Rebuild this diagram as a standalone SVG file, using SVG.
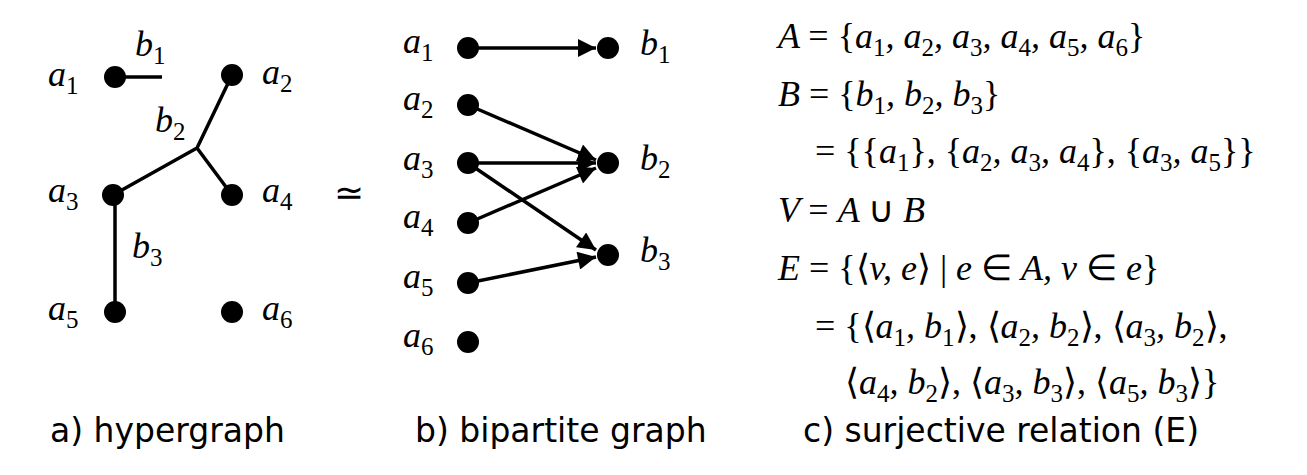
<svg xmlns="http://www.w3.org/2000/svg" width="1307" height="475" viewBox="0 0 1307 475">
<style>
.m{font-family:"Liberation Serif",serif;font-style:italic;font-size:36px;fill:#000}
.r{font-style:normal}
.s{font-size:25px;font-style:normal}
.cap{font-family:"DejaVu Sans","Liberation Sans",sans-serif;font-size:33px;fill:#000}
.e{stroke:#000;stroke-width:3.5;fill:none}
.n{fill:#000}
</style>
<defs><marker id="ah" viewBox="0 0 10 10" refX="10" refY="5" markerWidth="22" markerHeight="18" markerUnits="userSpaceOnUse" orient="auto"><path d="M0,0L10,5L0,10z"/></marker></defs>
<g id="connectors">
<path class="e" d="M115,77H162"/>
<path class="e" d="M197,148L232,75M197,148L113,195M197,148L232,195"/>
<path class="e" d="M115,195V312"/>
<path class="e" marker-end="url(#ah)" d="M468,48L596,48"/>
<path class="e" marker-end="url(#ah)" d="M468,105L596,160"/>
<path class="e" marker-end="url(#ah)" d="M468,163L596,163"/>
<path class="e" marker-end="url(#ah)" d="M468,163L596,250"/>
<path class="e" marker-end="url(#ah)" d="M468,223L596,168"/>
<path class="e" marker-end="url(#ah)" d="M468,283L596,257"/>
</g>
<g id="hyper">
<circle class="n" cx="115" cy="77" r="11"/><circle class="n" cx="232" cy="75" r="11"/>
<circle class="n" cx="113" cy="195" r="11"/><circle class="n" cx="232" cy="195" r="11"/>
<circle class="n" cx="115" cy="312" r="11"/><circle class="n" cx="232" cy="312" r="11"/>
<text class="m" x="48" y="86">a<tspan class="s" dy="8">1</tspan></text>
<text class="m" x="135" y="56">b<tspan class="s" dy="8">1</tspan></text>
<text class="m" x="155" y="132">b<tspan class="s" dy="8">2</tspan></text>
<text class="m" x="48" y="202">a<tspan class="s" dy="8">3</tspan></text>
<text class="m" x="132" y="258">b<tspan class="s" dy="8">3</tspan></text>
<text class="m" x="48" y="320">a<tspan class="s" dy="8">5</tspan></text>
<text class="m" x="262" y="84">a<tspan class="s" dy="8">2</tspan></text>
<text class="m" x="262" y="202">a<tspan class="s" dy="8">4</tspan></text>
<text class="m" x="262" y="320">a<tspan class="s" dy="8">6</tspan></text>
</g>
<text class="m r" x="334" y="205">≃</text>
<g id="bip">
<circle class="n" cx="468" cy="48" r="11"/><circle class="n" cx="468" cy="105" r="11"/>
<circle class="n" cx="468" cy="163" r="11"/><circle class="n" cx="468" cy="223" r="11"/>
<circle class="n" cx="468" cy="283" r="11"/><circle class="n" cx="468" cy="342" r="11"/>
<circle class="n" cx="608" cy="48" r="11"/><circle class="n" cx="608" cy="163" r="11"/><circle class="n" cx="608" cy="255" r="11"/>
<text class="m" x="403" y="53">a<tspan class="s" dy="8">1</tspan></text>
<text class="m" x="403" y="110">a<tspan class="s" dy="8">2</tspan></text>
<text class="m" x="403" y="170">a<tspan class="s" dy="8">3</tspan></text>
<text class="m" x="403" y="228">a<tspan class="s" dy="8">4</tspan></text>
<text class="m" x="403" y="288">a<tspan class="s" dy="8">5</tspan></text>
<text class="m" x="403" y="347">a<tspan class="s" dy="8">6</tspan></text>
<text class="m" x="640" y="55">b<tspan class="s" dy="8">1</tspan></text>
<text class="m" x="640" y="170">b<tspan class="s" dy="8">2</tspan></text>
<text class="m" x="640" y="262">b<tspan class="s" dy="8">3</tspan></text>
</g>
<g id="rel">
<text class="m" x="778" y="48">A <tspan class="r">= {</tspan>a<tspan class="s" dy="8">1</tspan><tspan dy="-8">, a</tspan><tspan class="s" dy="8">2</tspan><tspan dy="-8">, a</tspan><tspan class="s" dy="8">3</tspan><tspan dy="-8">, a</tspan><tspan class="s" dy="8">4</tspan><tspan dy="-8">, a</tspan><tspan class="s" dy="8">5</tspan><tspan dy="-8">, a</tspan><tspan class="s" dy="8">6</tspan><tspan class="r" dy="-8">}</tspan></text>
<text class="m" x="778" y="106">B <tspan class="r">= {</tspan>b<tspan class="s" dy="8">1</tspan><tspan dy="-8">, b</tspan><tspan class="s" dy="8">2</tspan><tspan dy="-8">, b</tspan><tspan class="s" dy="8">3</tspan><tspan class="r" dy="-8">}</tspan></text>
<text class="m" x="815" y="163"><tspan class="r">= {{</tspan>a<tspan class="s" dy="8">1</tspan><tspan class="r" dy="-8">}, {</tspan>a<tspan class="s" dy="8">2</tspan><tspan dy="-8">, a</tspan><tspan class="s" dy="8">3</tspan><tspan dy="-8">, a</tspan><tspan class="s" dy="8">4</tspan><tspan class="r" dy="-8">}, {</tspan>a<tspan class="s" dy="8">3</tspan><tspan dy="-8">, a</tspan><tspan class="s" dy="8">5</tspan><tspan class="r" dy="-8">}}</tspan></text>
<text class="m" x="778" y="222">V <tspan class="r">= </tspan>A <tspan class="r">∪ </tspan>B</text>
<text class="m" x="778" y="280">E <tspan class="r">= {⟨</tspan>v, e<tspan class="r">⟩ | </tspan>e <tspan class="r">∈ </tspan>A, v <tspan class="r">∈ </tspan>e<tspan class="r">}</tspan></text>
<text class="m" x="815" y="338"><tspan class="r">= {⟨</tspan>a<tspan class="s" dy="8">1</tspan><tspan dy="-8">, b</tspan><tspan class="s" dy="8">1</tspan><tspan class="r" dy="-8">⟩, ⟨</tspan>a<tspan class="s" dy="8">2</tspan><tspan dy="-8">, b</tspan><tspan class="s" dy="8">2</tspan><tspan class="r" dy="-8">⟩, ⟨</tspan>a<tspan class="s" dy="8">3</tspan><tspan dy="-8">, b</tspan><tspan class="s" dy="8">2</tspan><tspan class="r" dy="-8">⟩,</tspan></text>
<text class="m" x="845" y="394"><tspan class="r">⟨</tspan>a<tspan class="s" dy="8">4</tspan><tspan dy="-8">, b</tspan><tspan class="s" dy="8">2</tspan><tspan class="r" dy="-8">⟩, ⟨</tspan>a<tspan class="s" dy="8">3</tspan><tspan dy="-8">, b</tspan><tspan class="s" dy="8">3</tspan><tspan class="r" dy="-8">⟩, ⟨</tspan>a<tspan class="s" dy="8">5</tspan><tspan dy="-8">, b</tspan><tspan class="s" dy="8">3</tspan><tspan class="r" dy="-8">⟩}</tspan></text>
</g>
<text class="cap" x="50" y="442">a) hypergraph</text>
<text class="cap" x="415" y="442">b) bipartite graph</text>
<text class="cap" x="803" y="442">c) surjective relation (E)</text>
</svg>
